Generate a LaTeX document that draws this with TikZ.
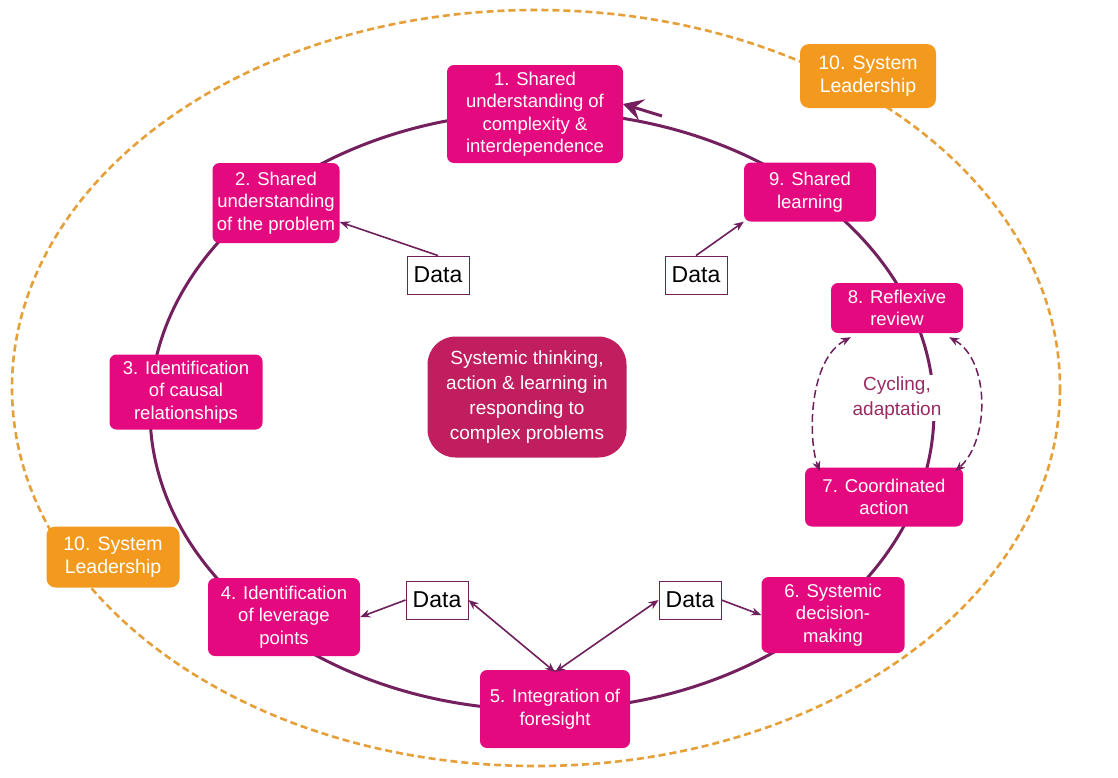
\documentclass[tikz,border=0pt]{standalone}
\usepackage{fontspec}
\setmainfont{Liberation Sans}
\usetikzlibrary{arrows.meta}
\definecolor{pk}{HTML}{E4097E}
\definecolor{ctr}{HTML}{C01E5E}
\definecolor{org}{HTML}{F39A1E}
\definecolor{dorg}{HTML}{E5A03A}
\definecolor{arr}{HTML}{6E1F5C}
\definecolor{ring}{HTML}{74205E}
\definecolor{cyc}{HTML}{9A2A62}
\begin{document}
\begin{tikzpicture}[x=1pt,y=-1pt,
  stage/.style={fill=pk,text=white,rounded corners=7pt,align=center,font=\fontsize{18.5}{22.5}\selectfont,inner sep=1pt},
  lead/.style={fill=org,text=white,rounded corners=9pt,align=center,font=\fontsize{19.5}{23}\selectfont,inner sep=1pt},
  databox/.style={draw=arr,fill=white,line width=0.9pt,font=\fontsize{23}{26}\selectfont,minimum width=62pt,minimum height=38pt,inner sep=0pt},
  conn/.style={draw=arr,line width=1.6pt,-{Stealth[length=10pt,width=8pt]}},
  dconn/.style={draw=arr,line width=1.6pt,{Stealth[length=10pt,width=8pt]}-{Stealth[length=10pt,width=8pt]}},
  cycl/.style={draw=arr,line width=1.5pt,dash pattern=on 8pt off 4pt,{Stealth[length=10pt,width=8pt]}-{Stealth[length=10pt,width=8pt]}}]
\useasboundingbox (0,0) rectangle (1118,777);
\fill[white] (0,0) rectangle (1118,777);
% outer dashed ellipse
\draw[dorg,line width=2.6pt,dash pattern=on 7pt off 4pt] (536,388) ellipse [x radius=524,y radius=378];
% ring
\draw[ring,line width=3pt] (542,411) ellipse [x radius=392,y radius=299];
% ring arrowhead near node 1
\coordinate (rh1) at (662,116);
\coordinate (rh2) at (623,104);
\draw[ring,line width=3pt,-{Stealth[length=20pt,width=22pt,inset=8pt]}] (rh1) -- (rh2);
% stages
\node[stage,minimum width=176pt,minimum height=98pt] (n1) at (535,114) {1. Shared\\understanding of\\complexity \&\\interdependence};
\node[stage,minimum width=127pt,minimum height=80pt] (n2) at (276,203) {2. Shared\\understanding\\of the problem};
\node[stage,minimum width=153pt,minimum height=75pt] (n3) at (186,392) {3. Identification\\of causal\\relationships};
\node[stage,minimum width=152pt,minimum height=78pt] (n4) at (284,617) {4. Identification\\of leverage\\points};
\node[stage,minimum width=150pt,minimum height=78pt] (n5) at (555,709) {5. Integration of\\foresight};
\node[stage,minimum width=143pt,minimum height=76pt] (n6) at (833,615) {6. Systemic\\decision-\\making};
\node[stage,minimum width=158pt,minimum height=59pt] (n7) at (884,497) {7. Coordinated\\action};
\node[stage,minimum width=132pt,minimum height=50pt] (n8) at (897,308) {8. Reflexive\\review};
\node[stage,minimum width=132pt,minimum height=59pt] (n9) at (810,192) {9. Shared\\learning};
\node[fill=ctr,text=white,rounded corners=28pt,align=center,font=\fontsize{19}{25}\selectfont,minimum width=199pt,minimum height=121pt,inner sep=1pt] (ctr) at (527,397) {Systemic thinking,\\action \& learning in\\responding to\\complex problems};
\node[lead,minimum width=136pt,minimum height=64pt] (l1) at (868,76) {10. System\\Leadership};
\node[lead,minimum width=133pt,minimum height=61pt] (l2) at (113,557) {10. System\\Leadership};
% cycling text
\node[fill=white,text=cyc,align=center,font=\fontsize{19}{25}\selectfont,inner sep=2pt] (cy) at (897,398) {Cycling,\\adaptation};
% data boxes
\node[databox] (d1) at (438,275) {Data};
\node[databox] (d2) at (696,275) {Data};
\node[databox] (d3) at (437,600) {Data};
\node[databox] (d4) at (690,600) {Data};
% connectors
\draw[conn] (d1.north) -- (n2.east |- 0,222);
\draw[conn] (d2.north) -- (n9.south west);
\draw[conn] (d3.west) -- (n4.east);
\draw[conn] (d4.east) -- (n6.west);
\coordinate (top5) at (555,672);
\draw[dconn] (d3.east) -- (top5);
\draw[dconn] (d4.west) -- (top5);
% cycling dashed arrows
\draw[cycl] (n8.south west) ++(20,4) .. controls (808,360) and (808,440) .. ([xshift=15pt,yshift=-4pt]n7.north west);
\draw[cycl] (n8.south east) ++(-14,4) .. controls (990,360) and (990,440) .. ([xshift=-8pt,yshift=-4pt]n7.north east);
\end{tikzpicture}
\end{document}
